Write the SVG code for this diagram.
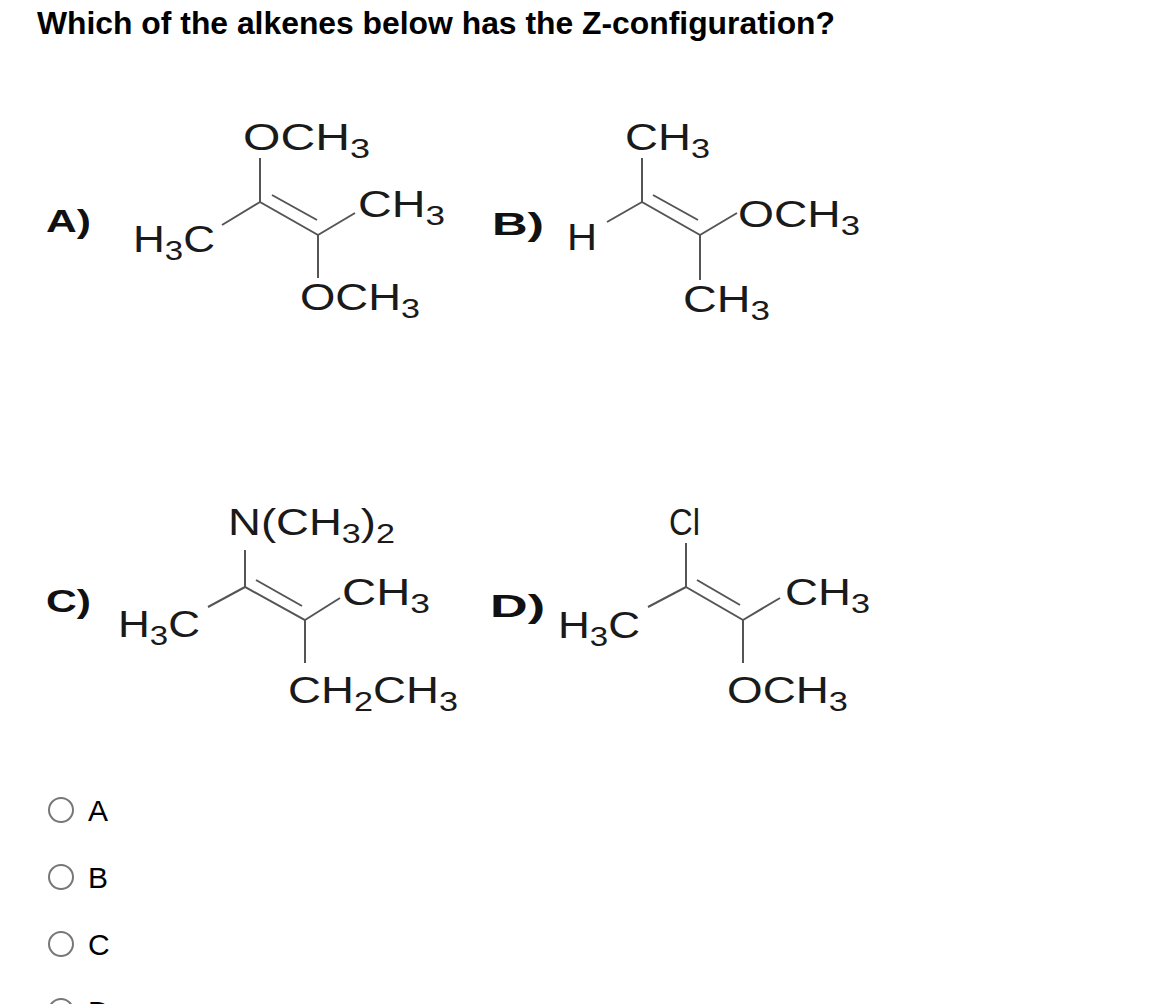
<svg xmlns="http://www.w3.org/2000/svg" width="1164" height="1004" viewBox="0 0 1164 1004">
<style>
.t{font-family:"Liberation Sans",Arial,sans-serif;font-size:36px;fill:#1a1a1a}
.s{font-size:27px}
.lb{font-family:"Liberation Sans",Arial,sans-serif;font-size:32px;font-weight:bold;fill:#111}
.b{stroke:#555;stroke-width:2;fill:none}
.o{font-family:"Liberation Sans",Arial,sans-serif;font-size:30px;fill:#000}
.r{fill:none;stroke:#777;stroke-width:2}
</style>
<rect width="1164" height="1004" fill="#fff"/>
<text x="37" y="34" font-family="Liberation Sans,Arial,sans-serif" font-size="31" font-weight="bold" fill="#000" textLength="798" lengthAdjust="spacingAndGlyphs">Which of the alkenes below has the Z-configuration?</text>
<g id="connectors">
<path class="b" d="M260,158V202L318,235V278M222,225L260,202M318,235L355,213M272,195L317,220"/>
<path class="b" d="M642,158V202L700,235V280M607,222L642,202M700,235L737,213M653,195L698,220"/>
<path class="b" d="M245,550V587L305,620V663M208,607L245,587M305,620L340,598M256,580L302,606"/>
<path class="b" d="M686,543V587L743,620V663M648,607L686,587M743,620L780,598M697,580L740,605"/>
</g>
<g id="A">
<text class="lb" x="46" y="232" textLength="45" lengthAdjust="spacingAndGlyphs">A)</text>
<text class="t" x="243" y="150" textLength="127" lengthAdjust="spacingAndGlyphs">OCH<tspan class="s" dy="8">3</tspan></text>
<text class="t" x="133" y="252" textLength="82" lengthAdjust="spacingAndGlyphs">H<tspan class="s" dy="8">3</tspan><tspan dy="-8">C</tspan></text>
<text class="t" x="358" y="217" textLength="87" lengthAdjust="spacingAndGlyphs">CH<tspan class="s" dy="8">3</tspan></text>
<text class="t" x="300" y="310" textLength="120" lengthAdjust="spacingAndGlyphs">OCH<tspan class="s" dy="8">3</tspan></text>
</g>
<g id="B">
<text class="lb" x="492" y="235" textLength="52" lengthAdjust="spacingAndGlyphs">B)</text>
<text class="t" x="625" y="150" textLength="85" lengthAdjust="spacingAndGlyphs">CH<tspan class="s" dy="8">3</tspan></text>
<text class="t" x="567" y="250" textLength="30" lengthAdjust="spacingAndGlyphs">H</text>
<text class="t" x="738" y="227" textLength="122" lengthAdjust="spacingAndGlyphs">OCH<tspan class="s" dy="8">3</tspan></text>
<text class="t" x="683" y="312" textLength="87" lengthAdjust="spacingAndGlyphs">CH<tspan class="s" dy="8">3</tspan></text>
</g>
<g id="C">
<text class="lb" x="46" y="612" textLength="45" lengthAdjust="spacingAndGlyphs">C)</text>
<text class="t" x="228" y="535" textLength="167" lengthAdjust="spacingAndGlyphs">N(CH<tspan class="s" dy="8">3</tspan><tspan dy="-8">)</tspan><tspan class="s" dy="8">2</tspan></text>
<text class="t" x="118" y="637" textLength="82" lengthAdjust="spacingAndGlyphs">H<tspan class="s" dy="8">3</tspan><tspan dy="-8">C</tspan></text>
<text class="t" x="342" y="605" textLength="88" lengthAdjust="spacingAndGlyphs">CH<tspan class="s" dy="8">3</tspan></text>
<text class="t" x="288" y="703" textLength="170" lengthAdjust="spacingAndGlyphs">CH<tspan class="s" dy="8">2</tspan><tspan dy="-8">CH</tspan><tspan class="s" dy="8">3</tspan></text>
</g>
<g id="D">
<text class="lb" x="490" y="617" textLength="55" lengthAdjust="spacingAndGlyphs">D)</text>
<text class="t" x="669" y="535" textLength="31" lengthAdjust="spacingAndGlyphs">Cl</text>
<text class="t" x="558" y="638" textLength="82" lengthAdjust="spacingAndGlyphs">H<tspan class="s" dy="8">3</tspan><tspan dy="-8">C</tspan></text>
<text class="t" x="785" y="605" textLength="85" lengthAdjust="spacingAndGlyphs">CH<tspan class="s" dy="8">3</tspan></text>
<text class="t" x="727" y="703" textLength="121" lengthAdjust="spacingAndGlyphs">OCH<tspan class="s" dy="8">3</tspan></text>
</g>
<g id="options">
<circle class="r" cx="61" cy="810" r="12"/><text class="o" x="88" y="821">A</text>
<circle class="r" cx="61" cy="877" r="12"/><text class="o" x="88" y="888">B</text>
<circle class="r" cx="61" cy="944" r="12"/><text class="o" x="88" y="955">C</text>
<circle class="r" cx="61" cy="1011" r="12"/><text class="o" x="88" y="1022">D</text>
</g>
</svg>
